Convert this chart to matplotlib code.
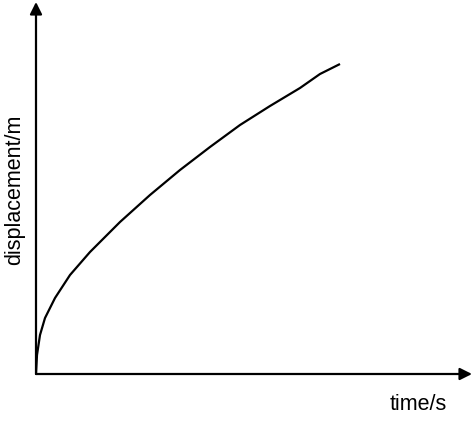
import matplotlib
matplotlib.use('Agg')
import matplotlib.pyplot as plt

# curve (axis units ~ pixels from origin)
time = [0, 1, 4, 9, 19, 34, 54, 84, 114, 144, 174, 204, 234, 264, 284, 304]
disp = [0, 19, 39, 56, 76, 99, 122, 152, 179, 204, 227, 249, 268, 286, 300, 310]

fig = plt.figure(figsize=(4.74, 4.21), dpi=100)
ax = fig.add_axes([36 / 474, 47 / 421, 436 / 474, 372 / 421])
ax.set_xlim(0, 436)
ax.set_ylim(0, 372)
ax.axis('off')

ax.plot(time, disp, color='black', linewidth=1.6, solid_capstyle='butt')

# axes with arrow heads
ax.annotate('', xy=(436, 0), xytext=(0, 0),
            arrowprops=dict(arrowstyle='-|>', color='black', lw=1.6,
                            mutation_scale=18, shrinkA=0, shrinkB=0))
ax.annotate('', xy=(0, 372), xytext=(0, 0),
            arrowprops=dict(arrowstyle='-|>', color='black', lw=1.6,
                            mutation_scale=18, shrinkA=0, shrinkB=0))

fig.text(15 / 474, 1 - 190 / 421, 'displacement/m', rotation=90,
         ha='center', va='center', fontsize=15.5, family='Liberation Sans')
fig.text(418 / 474, 1 - 405 / 421, 'time/s', ha='center', va='center',
         fontsize=15.5, family='Liberation Sans')

fig.savefig('out.png', dpi=100)
